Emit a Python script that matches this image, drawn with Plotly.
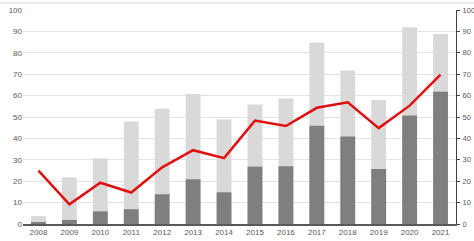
import plotly.graph_objects as go

years = ["2008","2009","2010","2011","2012","2013","2014","2015","2016","2017","2018","2019","2020","2021"]
total = [3.7, 21.8, 30.7, 47.9, 53.8, 60.7, 48.8, 55.8, 58.6, 84.8, 71.7, 57.9, 91.9, 88.8]
subset = [0.6, 1.9, 5.9, 6.9, 13.9, 20.9, 14.8, 26.8, 27.0, 45.9, 40.9, 25.7, 50.7, 61.8]
line = [24.9, 9.2, 19.3, 14.7, 26.5, 34.5, 30.8, 48.3, 45.8, 54.3, 56.9, 44.8, 55.3, 69.8]
ticks = [0, 10, 20, 30, 40, 50, 60, 70, 80, 90, 100]

fig = go.Figure()
fig.add_trace(go.Bar(x=years, y=total, marker=dict(color="#d9d9d9", line=dict(width=0)), width=0.48))
fig.add_trace(go.Bar(x=years, y=subset, marker=dict(color="#7f7f7f", line=dict(width=0)), width=0.48))
fig.add_trace(go.Scatter(x=years, y=line, mode="lines", line=dict(color="#e01010", width=2.5), yaxis="y2"))

font = dict(family="Liberation Sans", size=8, color="#595959")
rfont = dict(family="Liberation Sans", size=7.5, color="#595959")
fig.update_layout(
    width=474, height=241,
    margin=dict(l=23, r=18, t=10, b=17),
    barmode="overlay",
    showlegend=False,
    plot_bgcolor="white", paper_bgcolor="white",
    font=font,
    xaxis=dict(showgrid=False, showline=True, linecolor="#595959", linewidth=1.5,
               ticks="", tickfont=font, automargin=False),
    yaxis=dict(range=[0, 100], tickvals=ticks, showgrid=True, gridcolor="#e3e3e3", gridwidth=1,
               zeroline=False, showline=False, ticks="", tickfont=font, automargin=False),
    yaxis2=dict(range=[0, 100], tickvals=ticks, overlaying="y", side="right", showgrid=False,
                zeroline=False, showline=True, linecolor="#404040", linewidth=1.2,
                ticks="outside", ticklen=3, tickcolor="#404040", tickfont=rfont,
                ticklabelstandoff=1, automargin=False),
    shapes=[dict(type="line", xref="paper", yref="paper", x0=-0.06, x1=1.05, y0=1.033, y1=1.033,
                 line=dict(color="#d6d6d6", width=1))],
)
fig.write_html("out.html")
